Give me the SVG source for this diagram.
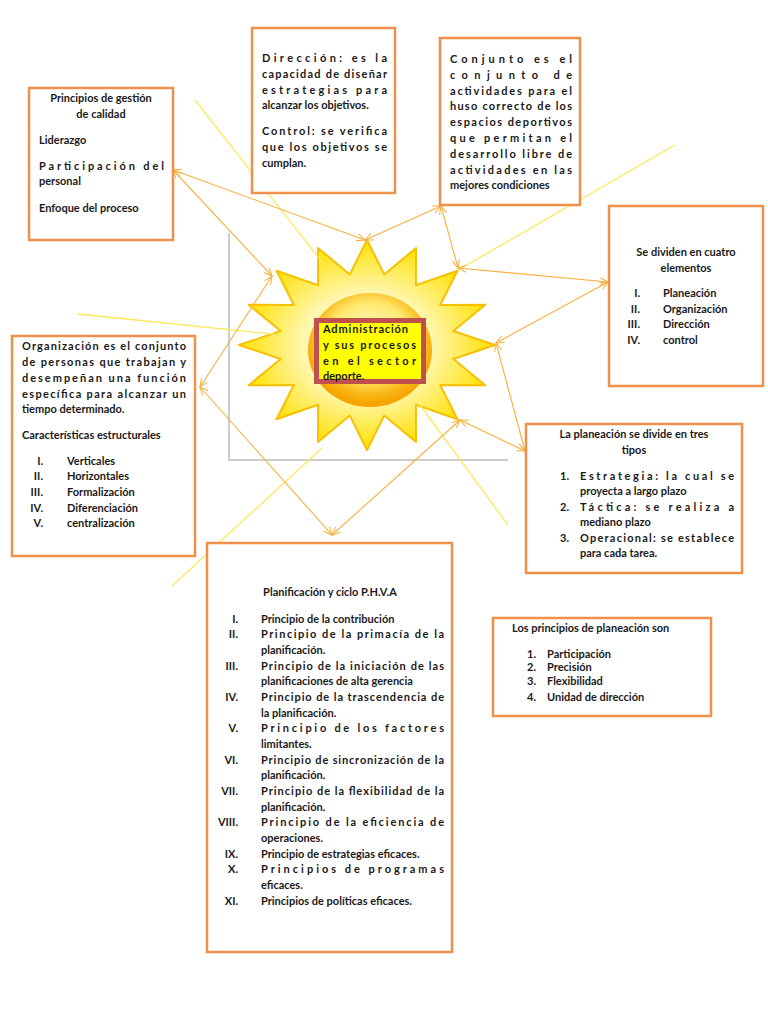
<svg xmlns="http://www.w3.org/2000/svg" width="768" height="1024" viewBox="0 0 768 1024">
<style>
text{font-family:Lato,"Liberation Sans",sans-serif;font-weight:700;font-size:11px;fill:#1a1a1a}
.box{fill:#fff;stroke:#f0904a;stroke-width:2.5}
.c{text-anchor:middle}
.r{text-anchor:end}
.ray{stroke:#ffe85a;stroke-width:1.3;fill:none}
.con{stroke:#f8b040;stroke-width:1.1;fill:none;marker-start:url(#ah);marker-end:url(#ah)}
</style>
<defs>
<marker id="ah" viewBox="0 0 10 10" refX="9" refY="5" markerWidth="9" markerHeight="9" markerUnits="userSpaceOnUse" orient="auto-start-reverse">
<path d="M0,1 L9,5 L0,9" fill="none" stroke="#f8b040" stroke-width="1.2"/>
</marker>
<radialGradient id="sg" cx="0.5" cy="0.5" r="0.5">
<stop offset="0.5" stop-color="#fff7b0"/>
<stop offset="1" stop-color="#ffe000"/>
</radialGradient>
<radialGradient id="dg" cx="0.5" cy="0.42" r="0.55">
<stop offset="0" stop-color="#fffbe0"/>
<stop offset="0.6" stop-color="#ffea70"/>
<stop offset="0.85" stop-color="#f9b818"/>
<stop offset="1" stop-color="#f6a400"/>
</radialGradient>
</defs>
<rect width="768" height="1024" fill="#fff"/>

<g id="frame">
<path d="M229,233 V460 H508" fill="none" stroke="#bdbdbd" stroke-width="1.5"/>
</g>

<g id="sun">
<path d="M495,345 L453.3,359 L485.3,385.2 L440.1,385 L457.5,419.2 L415.9,404.8 L416,442 L384.2,415.6 L367,450 L349.8,415.6 L318,442 L318.1,404.8 L276.5,419.2 L293.9,385 L248.7,385.2 L280.7,359 L239,345 L280.7,331 L248.7,304.8 L293.9,305 L276.5,270.8 L318.1,285.2 L318,248 L349.8,274.4 L367,240 L384.2,274.4 L416,248 L415.9,285.2 L457.5,270.8 L440.1,305 L485.3,304.8 L453.3,331 Z" fill="url(#sg)" stroke="#f7c000" stroke-width="2" stroke-linejoin="round"/>
<ellipse cx="370" cy="350" rx="62" ry="57" fill="url(#dg)"/>
</g>

<g id="center">
<rect x="316.5" y="320.5" width="107" height="61" fill="#ffff00" stroke="#c0504d" stroke-width="5"/>
<text x="323" y="333" textLength="85" lengthAdjust="spacing">Administración</text>
<text x="323" y="349" textLength="93" lengthAdjust="spacing">y sus procesos</text>
<text x="323" y="365" textLength="93" lengthAdjust="spacing">en el sector</text>
<text x="323" y="380">deporte.</text>
</g>

<g id="rays">
<line class="ray" x1="195" y1="100" x2="322" y2="262"/>
<line class="ray" x1="675" y1="145" x2="458" y2="270"/>
<line class="ray" x1="78" y1="314" x2="282" y2="335"/>
<line class="ray" x1="172" y1="586" x2="322" y2="448"/>
<line class="ray" x1="508" y1="525" x2="420" y2="405"/>
</g>

<g id="connectors">
<line class="con" x1="173" y1="170" x2="365" y2="240"/>
<line class="con" x1="173" y1="170" x2="272" y2="276"/>
<line class="con" x1="365" y1="240" x2="441" y2="206"/>
<line class="con" x1="441" y1="206" x2="458" y2="268"/>
<line class="con" x1="458" y1="268" x2="608" y2="282"/>
<line class="con" x1="608" y1="282" x2="496" y2="343"/>
<line class="con" x1="496" y1="343" x2="525" y2="451"/>
<line class="con" x1="460" y1="420" x2="525" y2="451"/>
<line class="con" x1="460" y1="420" x2="332" y2="535"/>
<line class="con" x1="200" y1="387" x2="332" y2="535"/>
<line class="con" x1="200" y1="387" x2="272" y2="276"/>
</g>

<g id="n-principios">
<rect class="box" x="29" y="88" width="144" height="152"/>
<text class="c" x="101" y="102">Principios de gestión</text>
<text class="c" x="101" y="118">de calidad</text>
<text x="39" y="144">Liderazgo</text>
<text x="39" y="170" textLength="125" lengthAdjust="spacing">Participación del</text>
<text x="39" y="185">personal</text>
<text x="39" y="212">Enfoque del proceso</text>
</g>

<g id="n-direccion">
<rect class="box" x="252" y="28" width="143" height="165"/>
<text x="262" y="62" textLength="125" lengthAdjust="spacing">Dirección: es la</text>
<text x="262" y="78" textLength="125" lengthAdjust="spacing">capacidad de diseñar</text>
<text x="262" y="94" textLength="125" lengthAdjust="spacing">estrategias para</text>
<text x="262" y="109">alcanzar los objetivos.</text>
<text x="262" y="135" textLength="125" lengthAdjust="spacing">Control: se verifica</text>
<text x="262" y="151" textLength="125" lengthAdjust="spacing">que los objetivos se</text>
<text x="262" y="167">cumplan.</text>
</g>

<g id="n-conjunto">
<rect class="box" x="440" y="38" width="140" height="167"/>
<text x="450" y="63" textLength="122" lengthAdjust="spacing">Conjunto es el</text>
<text x="450" y="79" textLength="122" lengthAdjust="spacing">conjunto de</text>
<text x="450" y="95" textLength="122" lengthAdjust="spacing">actividades para el</text>
<text x="450" y="110" textLength="122" lengthAdjust="spacing">huso correcto de los</text>
<text x="450" y="126" textLength="122" lengthAdjust="spacing">espacios deportivos</text>
<text x="450" y="142" textLength="122" lengthAdjust="spacing">que permitan el</text>
<text x="450" y="158" textLength="122" lengthAdjust="spacing">desarrollo libre de</text>
<text x="450" y="174" textLength="122" lengthAdjust="spacing">actividades en las</text>
<text x="450" y="189">mejores condiciones</text>
</g>

<g id="n-cuatro">
<rect class="box" x="609" y="206" width="154" height="180"/>
<text class="c" x="686" y="256">Se dividen en cuatro</text>
<text class="c" x="686" y="272">elementos</text>
<text class="r" x="640" y="297">I.</text><text x="663" y="297">Planeación</text>
<text class="r" x="640" y="313">II.</text><text x="663" y="313">Organización</text>
<text class="r" x="640" y="328">III.</text><text x="663" y="328">Dirección</text>
<text class="r" x="640" y="344">IV.</text><text x="663" y="344">control</text>
</g>

<g id="n-organizacion">
<rect class="box" x="12" y="336" width="183" height="220"/>
<text x="22" y="350" textLength="164" lengthAdjust="spacing">Organización es el conjunto</text>
<text x="22" y="366" textLength="164" lengthAdjust="spacing">de personas que trabajan y</text>
<text x="22" y="382" textLength="164" lengthAdjust="spacing">desempeñan una función</text>
<text x="22" y="398" textLength="164" lengthAdjust="spacing">específica para alcanzar un</text>
<text x="22" y="413">tiempo determinado.</text>
<text x="22" y="439">Características estructurales</text>
<text class="r" x="43" y="465">I.</text><text x="67" y="465">Verticales</text>
<text class="r" x="43" y="480">II.</text><text x="67" y="480">Horizontales</text>
<text class="r" x="43" y="496">III.</text><text x="67" y="496">Formalización</text>
<text class="r" x="43" y="512">IV.</text><text x="67" y="512">Diferenciación</text>
<text class="r" x="43" y="527">V.</text><text x="67" y="527">centralización</text>
</g>

<g id="n-planeacion">
<rect class="box" x="526" y="424" width="216" height="149"/>
<text class="c" x="634" y="438">La planeación se divide en tres</text>
<text class="c" x="634" y="454">tipos</text>
<text class="r" x="569" y="480">1.</text><text x="580" y="480" textLength="154" lengthAdjust="spacing">Estrategia: la cual se</text>
<text x="580" y="495">proyecta a largo plazo</text>
<text class="r" x="569" y="511">2.</text><text x="580" y="511" textLength="154" lengthAdjust="spacing">Táctica: se realiza a</text>
<text x="580" y="526">mediano plazo</text>
<text class="r" x="569" y="542">3.</text><text x="580" y="542" textLength="154" lengthAdjust="spacing">Operacional: se establece</text>
<text x="580" y="557">para cada tarea.</text>
</g>

<g id="n-phva">
<rect class="box" x="207" y="543" width="245" height="409"/>
<text class="c" x="330" y="596">Planificación y ciclo P.H.V.A</text>
<text class="r" x="238" y="623">I.</text><text x="261" y="623">Principio de la contribución</text>
<text class="r" x="238" y="638">II.</text><text x="261" y="638" textLength="183" lengthAdjust="spacing">Principio de la primacía de la</text>
<text x="261" y="654">planificación.</text>
<text class="r" x="238" y="670">III.</text><text x="261" y="670" textLength="183" lengthAdjust="spacing">Principio de la iniciación de las</text>
<text x="261" y="685">planificaciones de alta gerencia</text>
<text class="r" x="238" y="701">IV.</text><text x="261" y="701" textLength="183" lengthAdjust="spacing">Principio de la trascendencia de</text>
<text x="261" y="717">la planificación.</text>
<text class="r" x="238" y="732">V.</text><text x="261" y="732" textLength="183" lengthAdjust="spacing">Principio de los factores</text>
<text x="261" y="748">limitantes.</text>
<text class="r" x="238" y="764">VI.</text><text x="261" y="764" textLength="183" lengthAdjust="spacing">Principio de sincronización de la</text>
<text x="261" y="779">planificación.</text>
<text class="r" x="238" y="795">VII.</text><text x="261" y="795" textLength="183" lengthAdjust="spacing">Principio de la flexibilidad de la</text>
<text x="261" y="811">planificación.</text>
<text class="r" x="238" y="826">VIII.</text><text x="261" y="826" textLength="183" lengthAdjust="spacing">Principio de la eficiencia de</text>
<text x="261" y="842">operaciones.</text>
<text class="r" x="238" y="858">IX.</text><text x="261" y="858">Principio de estrategias eficaces.</text>
<text class="r" x="238" y="873">X.</text><text x="261" y="873" textLength="183" lengthAdjust="spacing">Principios de programas</text>
<text x="261" y="889">eficaces.</text>
<text class="r" x="238" y="905">XI.</text><text x="261" y="905">Principios de políticas eficaces.</text>
</g>

<g id="n-principios-planeacion">
<rect class="box" x="493" y="618" width="218" height="98"/>
<text x="512" y="632">Los principios de planeación son</text>
<text class="r" x="536" y="658">1.</text><text x="547" y="658">Participación</text>
<text class="r" x="536" y="671">2.</text><text x="547" y="671">Precisión</text>
<text class="r" x="536" y="685">3.</text><text x="547" y="685">Flexibilidad</text>
<text class="r" x="536" y="701">4.</text><text x="547" y="701">Unidad de dirección</text>
</g>
</svg>
